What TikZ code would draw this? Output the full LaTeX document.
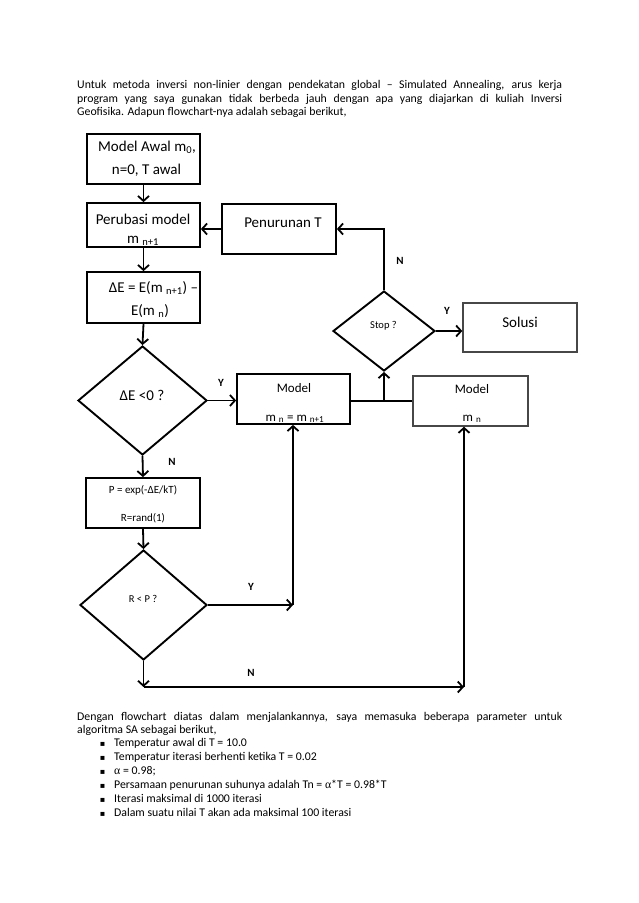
\documentclass[tikz,border=0pt]{standalone}
\usepackage{fontspec}
\setmainfont{Carlito}
\newfontfamily\symfont{DejaVu Sans}
\newfontfamily\grkfont{Liberation Serif}
\usetikzlibrary{shapes.geometric,arrows.meta}
\begin{document}
\begin{tikzpicture}[x=1pt,y=-1pt,
  >={Straight Barb[length=5pt,width=11pt]},
  box/.style={draw,line width=1.7pt,inner sep=0pt},
  gbox/.style={draw=black!72,line width=1.4pt,inner sep=0pt},
  dia/.style={draw,diamond,line width=1.9pt,inner sep=0pt},
  conn/.style={line width=1.8pt},
  lbl/.style={font=\fontsize{11}{13}\selectfont\bfseries,inner sep=0pt},
  big/.style={font=\fontsize{15}{18}\selectfont,inner sep=0pt,anchor=base},
  mid/.style={font=\fontsize{13}{15}\selectfont,inner sep=0pt,anchor=base},
  sml/.style={font=\fontsize{11}{13}\selectfont,inner sep=0pt},
  tiny/.style={font=\fontsize{10.5}{12}\selectfont,inner sep=0pt},
  body/.style={font=\fontsize{11.8}{14}\selectfont,inner sep=0pt,anchor=base west},
  bul/.style={font=\symfont\fontsize{8}{9}\selectfont,inner sep=0pt,anchor=base},
]
\useasboundingbox[fill=white] (0,0) rectangle (638,903);

% top paragraph
\node[body] (p1) at (77,88.5) {\makebox[485pt][s]{Untuk metoda inversi non-linier dengan pendekatan global – Simulated Annealing, arus kerja}};
\node[body] (p2) at (77,102) {\makebox[485pt][s]{program yang saya gunakan tidak berbeda jauh dengan apa yang diajarkan di kuliah Inversi}};
\node[body] (p3) at (77,115.5) {Geofisika. Adapun flowchart-nya adalah sebagai berikut,};

% boxes
\node[box,minimum width=113pt,minimum height=50pt] (awal) at (143.5,159) {};
\node[big] (awalt1) at (147,151.5) {Model Awal m\textsubscript{0},};
\node[big] (awalt2) at (146.5,174) {n=0, T awal};

\node[box,minimum width=113pt,minimum height=44pt] (pert) at (143.5,225) {};
\node[big] (pertt1) at (143,224.5) {Perubasi model};
\node[big] (pertt2) at (143,243) {m \textsubscript{n+1}};

\node[box,minimum width=114pt,minimum height=50pt] (pen) at (279,229) {};
\node[big] (pent) at (283,227) {Penurunan T};

\node[box,minimum width=113pt,minimum height=51pt] (dE) at (143.5,297.5) {};
\node[big] (dEt1) at (153.5,292) {ΔE = E(m \textsubscript{n+1}) –};
\node[big] (dEt2) at (150,315) {E(m \textsubscript{n})};

\node[dia,minimum width=129pt,minimum height=109pt] (d1) at (142.5,400.5) {};
\node[big,anchor=center] (d1t) at (142,395) {ΔE <0 ?};

\node[box,minimum width=113pt,minimum height=50pt] (m1) at (293.5,399) {};
\node[mid] (m1t1) at (294,392) {Model};
\node[mid] (m1t2) at (295,421) {m \textsubscript{n} = m \textsubscript{n+1}};

\node[gbox,minimum width=115pt,minimum height=50pt] (m2) at (470.5,401) {};
\node[mid] (m2t1) at (472,393) {Model};
\node[mid] (m2t2) at (472,421) {m \textsubscript{n}};

\node[dia,minimum width=102pt,minimum height=80pt] (stop) at (384,331) {};
\node[tiny] (stopt) at (383.5,325.5) {Stop ?};

\node[gbox,minimum width=114pt,minimum height=49pt] (sol) at (520,327.5) {};
\node[big] (solt) at (520,327) {Solusi};

\node[box,minimum width=114pt,minimum height=50pt] (P) at (143,503) {};
\node[sml] (Pt1) at (143,490) {P = exp(-ΔE/kT)};
\node[sml] (Pt2) at (143,518) {R=rand(1)};

\node[dia,minimum width=127pt,minimum height=110pt] (d2) at (143.5,605) {};
\node[tiny] (d2t) at (143,599) {R < P ?};

% connectors
\coordinate (cy) at (293,605);
\coordinate (cn1) at (143.5,687);
\coordinate (cn2) at (464,687);
\coordinate (j) at (384,401);

\draw[conn,->] (awal.south) -- (pert.north);
\draw[conn,->] (pen.west) -- (pen.west -| pert.east);
\draw[conn,->] (pert.south) -- (dE.north);
\draw[conn,->] (dE.south) -- (d1.north);
\draw[conn,->] (d1.east) -- (d1.east -| m1.west);
\draw[conn,->] (d1.south) -- (P.north);
\draw[conn,->] (P.south) -- (d2.north);
\draw[conn,->] (d2.east) -- (cy);
\draw[conn,->] (cy) -- (cy |- m1.south);
\draw[conn,->] (d2.south) -- (cn1);
\draw[conn,->] (cn1) -- (cn2);
\draw[conn,->] (cn2) -- (cn2 |- m2.south);
\draw[conn] (m1.east |- j) -- (m2.west |- j);
\draw[conn,->] (j) -- (stop.south);
\draw[conn,->] (stop.north) -- (stop.north |- pen.east) -- (pen.east);
\draw[conn,->] (stop.east) -- (sol.west |- stop.east);

% labels
\node[lbl] (ly1) at (221,383) {Y};
\node[lbl] (ln1) at (172,462) {N};
\node[lbl] (ly2) at (251,587) {Y};
\node[lbl] (ln2) at (251,673) {N};
\node[lbl] (ln3) at (400,261) {N};
\node[lbl] (ly3) at (447,311) {Y};

% bottom paragraph
\node[body] (q1) at (77,720) {\makebox[485pt][s]{Dengan flowchart diatas dalam menjalankannya, saya memasuka beberapa parameter untuk}};
\node[body] (q2) at (77,733) {algoritma SA sebagai berikut,};

\node[bul] (k1) at (102.5,746.5) {▪};
\node[body] (b1) at (114,746.5) {Temperatur awal di T = 10.0};
\node[bul] (k2) at (102.5,760.5) {▪};
\node[body] (b2) at (114,760.5) {Temperatur iterasi berhenti ketika T = 0.02};
\node[bul] (k3) at (102.5,774.5) {▪};
\node[body] (b3) at (114,774.5) {{\grkfont α} = 0.98;};
\node[bul] (k4) at (102.5,788.5) {▪};
\node[body] (b4) at (114,788.5) {Persamaan penurunan suhunya adalah Tn = {\grkfont α}*T = 0.98*T};
\node[bul] (k5) at (102.5,802.5) {▪};
\node[body] (b5) at (114,802.5) {Iterasi maksimal di 1000 iterasi};
\node[bul] (k6) at (102.5,816.5) {▪};
\node[body] (b6) at (114,816.5) {Dalam suatu nilai T akan ada maksimal 100 iterasi};
\end{tikzpicture}
\end{document}
